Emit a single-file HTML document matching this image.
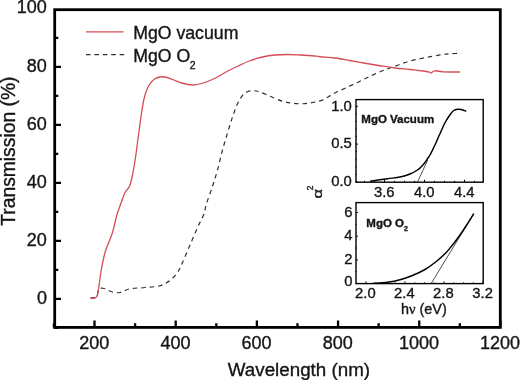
<!DOCTYPE html>
<html><head><meta charset="utf-8"><title>MgO transmission</title>
<style>
html,body{margin:0;padding:0;background:#fff;}
body{width:520px;height:380px;overflow:hidden;}
svg{display:block;}
svg text{font-family:"Liberation Sans",Arial,sans-serif;fill:#151515;stroke:#151515;stroke-width:0.35px;}
</style></head><body>
<svg width="520" height="380" viewBox="0 0 520 380">
<rect width="520" height="380" fill="#fff"/>
<!-- main frame -->
<rect x="54.7" y="9.7" width="445.6" height="317.7" fill="none" stroke="#000" stroke-width="2.8"/>
<path d="M94.50,327.4 V320.6 M175.69,327.4 V320.6 M256.88,327.4 V320.6 M338.06,327.4 V320.6 M419.25,327.4 V320.6 M500.44,327.4 V320.6 M53.91,327.4 V323.3 M135.09,327.4 V323.3 M216.28,327.4 V323.3 M297.47,327.4 V323.3 M378.66,327.4 V323.3 M459.85,327.4 V323.3 M54.5,298.80 H61 M54.5,240.80 H61 M54.5,182.80 H61 M54.5,124.80 H61 M54.5,66.80 H61 M54.5,327.80 H58.3 M54.5,269.80 H58.3 M54.5,211.80 H58.3 M54.5,153.80 H58.3 M54.5,95.80 H58.3 M54.5,37.80 H58.3 " stroke="#000" stroke-width="2.3" fill="none"/>
<g font-size="18"><text x="94.2" y="349.3" text-anchor="middle">200</text><text x="175.4" y="349.3" text-anchor="middle">400</text><text x="256.6" y="349.3" text-anchor="middle">600</text><text x="337.8" y="349.3" text-anchor="middle">800</text><text x="419.0" y="349.3" text-anchor="middle">1000</text><text x="500.1" y="349.3" text-anchor="middle">1200</text><text x="46.9" y="303.7" text-anchor="end">0</text><text x="46.9" y="245.7" text-anchor="end">20</text><text x="46.9" y="187.7" text-anchor="end">40</text><text x="46.9" y="129.7" text-anchor="end">60</text><text x="46.9" y="71.7" text-anchor="end">80</text><text x="46.9" y="12.6" text-anchor="end">100</text></g>
<text x="227.8" y="376" font-size="18.8">Wavelength (nm)</text>
<text transform="translate(15,225.8) rotate(-90)" font-size="19.3">Transmission (%)</text>
<!-- curves -->
<path d="M90.50,298.00 C91.33,297.93 94.42,297.89 95.50,297.60 C96.58,297.31 96.50,297.52 97.00,296.25 C97.50,294.98 98.00,291.32 98.50,290.00 C99.00,288.68 99.33,288.59 100.00,288.30 C100.67,288.01 101.67,288.18 102.50,288.25 C103.33,288.32 103.33,288.12 105.00,288.75 C106.67,289.38 110.00,291.38 112.50,292.00 C115.00,292.62 117.08,293.04 120.00,292.50 C122.92,291.96 125.83,289.58 130.00,288.75 C134.17,287.92 140.00,288.00 145.00,287.50 C150.00,287.00 155.83,286.92 160.00,285.75 C164.17,284.58 167.08,282.71 170.00,280.50 C172.92,278.29 175.42,275.50 177.50,272.50 C179.58,269.50 180.42,267.08 182.50,262.50 C184.58,257.92 187.50,250.83 190.00,245.00 C192.50,239.17 195.21,232.58 197.50,227.50 C199.79,222.42 202.25,218.46 203.75,214.50 C205.25,210.54 205.04,208.46 206.50,203.75 C207.96,199.04 210.67,191.88 212.50,186.25 C214.33,180.62 215.83,176.04 217.50,170.00 C219.17,163.96 220.83,156.17 222.50,150.00 C224.17,143.83 225.83,138.50 227.50,133.00 C229.17,127.50 230.83,121.88 232.50,117.00 C234.17,112.12 235.83,107.33 237.50,103.75 C239.17,100.17 240.83,97.50 242.50,95.50 C244.17,93.50 245.62,92.54 247.50,91.75 C249.38,90.96 251.67,90.71 253.75,90.75 C255.83,90.79 257.29,91.08 260.00,92.00 C262.71,92.92 266.25,94.71 270.00,96.25 C273.75,97.79 278.75,100.08 282.50,101.25 C286.25,102.42 289.17,102.83 292.50,103.25 C295.83,103.67 299.17,103.88 302.50,103.75 C305.83,103.62 309.17,103.12 312.50,102.50 C315.83,101.88 319.17,101.38 322.50,100.00 C325.83,98.62 328.75,96.21 332.50,94.25 C336.25,92.29 340.83,90.21 345.00,88.25 C349.17,86.29 353.33,84.50 357.50,82.50 C361.67,80.50 365.83,78.21 370.00,76.25 C374.17,74.29 378.33,72.42 382.50,70.75 C386.67,69.08 390.83,67.75 395.00,66.25 C399.17,64.75 403.33,63.00 407.50,61.75 C411.67,60.50 415.83,59.67 420.00,58.75 C424.17,57.83 428.75,56.96 432.50,56.25 C436.25,55.54 439.58,54.92 442.50,54.50 C445.42,54.08 446.88,53.96 450.00,53.75 C453.12,53.54 459.38,53.33 461.25,53.25" fill="none" stroke="#303030" stroke-width="1.2" stroke-dasharray="4.5 3.9"/>
<path d="M90.50,298.00 C90.92,298.07 92.17,298.47 93.00,298.40 C93.83,298.33 94.83,297.96 95.50,297.60 C96.17,297.24 96.58,297.18 97.00,296.25 C97.42,295.32 97.71,293.46 98.00,292.00 C98.29,290.54 98.21,291.17 98.75,287.50 C99.29,283.83 100.21,275.83 101.25,270.00 C102.29,264.17 103.75,257.08 105.00,252.50 C106.25,247.92 107.50,245.83 108.75,242.50 C110.00,239.17 111.46,235.83 112.50,232.50 C113.54,229.17 114.25,225.50 115.00,222.50 C115.75,219.50 115.96,217.83 117.00,214.50 C118.04,211.17 119.92,206.17 121.25,202.50 C122.58,198.83 123.62,195.21 125.00,192.50 C126.38,189.79 128.25,189.17 129.50,186.25 C130.75,183.33 131.50,179.79 132.50,175.00 C133.50,170.21 134.67,162.92 135.50,157.50 C136.33,152.08 136.83,147.50 137.50,142.50 C138.17,137.50 138.88,132.08 139.50,127.50 C140.12,122.92 140.54,119.58 141.25,115.00 C141.96,110.42 142.92,103.96 143.75,100.00 C144.58,96.04 145.21,93.96 146.25,91.25 C147.29,88.54 148.54,85.83 150.00,83.75 C151.46,81.67 153.33,79.88 155.00,78.75 C156.67,77.62 158.33,77.29 160.00,77.00 C161.67,76.71 162.92,76.58 165.00,77.00 C167.08,77.42 169.58,78.46 172.50,79.50 C175.42,80.54 179.17,82.33 182.50,83.25 C185.83,84.17 189.17,85.00 192.50,85.00 C195.83,85.00 198.75,84.38 202.50,83.25 C206.25,82.12 210.83,80.25 215.00,78.25 C219.17,76.25 223.75,73.25 227.50,71.25 C231.25,69.25 233.75,68.00 237.50,66.25 C241.25,64.50 245.83,62.29 250.00,60.75 C254.17,59.21 258.33,57.96 262.50,57.00 C266.67,56.04 270.83,55.42 275.00,55.00 C279.17,54.58 283.33,54.50 287.50,54.50 C291.67,54.50 295.83,54.79 300.00,55.00 C304.17,55.21 309.17,55.46 312.50,55.75 C315.83,56.04 316.25,56.38 320.00,56.75 C323.75,57.12 330.00,57.38 335.00,58.00 C340.00,58.62 345.00,59.62 350.00,60.50 C355.00,61.38 360.00,62.38 365.00,63.25 C370.00,64.12 375.00,64.96 380.00,65.75 C385.00,66.54 390.00,67.38 395.00,68.00 C400.00,68.62 405.00,68.96 410.00,69.50 C415.00,70.04 422.50,70.96 425.00,71.25  L429.00,72.00 L431.25,73.00 L433.00,71.50 L435.00,70.75 L442.50,71.75 L450.00,72.00 L460.00,72.00" fill="none" stroke="#d64c56" stroke-width="1.3" stroke-linejoin="round"/>
<!-- legend -->
<path d="M86,31.8 H123.5" stroke="#d64c56" stroke-width="1.3"/>
<path d="M86,54.7 H124.5" stroke="#303030" stroke-width="1.2" stroke-dasharray="4.6 3.8"/>
<text x="133.2" y="38.5" font-size="17.7">MgO vacuum</text>
<text x="133.2" y="61.8" font-size="17.7">MgO O<tspan font-size="10.5" dy="6.7" dx="-0.5">2</tspan></text>
<!-- insets -->
<rect x="356" y="99.6" width="127.2" height="82.6" fill="#fff" stroke="#000" stroke-width="1.4"/>
<rect x="356" y="202.6" width="127.2" height="81" fill="#fff" stroke="#000" stroke-width="1.4"/>
<path d="M355.75,182.00 h2.2 M355.75,174.43 h1.2 M355.75,166.85 h1.2 M355.75,159.28 h1.2 M355.75,151.70 h1.2 M355.75,144.12 h2.2 M355.75,136.55 h1.2 M355.75,128.97 h1.2 M355.75,121.40 h1.2 M355.75,113.83 h1.2 M355.75,106.25 h2.2 M364.50,182 v-1.2 M374.50,182 v-1.2 M384.50,182 v-2.2 M394.50,182 v-1.2 M404.50,182 v-1.2 M414.50,182 v-1.2 M424.50,182 v-2.2 M434.50,182 v-1.2 M444.50,182 v-1.2 M454.50,182 v-1.2 M464.50,182 v-2.2 M474.50,182 v-1.2 M355.75,283.60 h2.2 M355.75,271.75 h1.2 M355.75,259.90 h2.2 M355.75,248.05 h1.2 M355.75,236.20 h2.2 M355.75,224.35 h1.2 M355.75,212.50 h2.2 M366.00,283.6 v-2.2 M375.75,283.6 v-1.2 M385.50,283.6 v-1.2 M395.25,283.6 v-1.2 M405.00,283.6 v-2.2 M414.75,283.6 v-1.2 M424.50,283.6 v-1.2 M434.25,283.6 v-1.2 M444.00,283.6 v-2.2 M453.75,283.6 v-1.2 M463.50,283.6 v-1.2 M473.25,283.6 v-1.2 M483.00,283.6 v-2.2 " stroke="#000" stroke-width="1" fill="none"/>
<path d="M417.5,182 L427.7,160" stroke="#222" stroke-width="0.8" fill="none"/>
<path d="M431.1,283.6 L473.75,213.75" stroke="#222" stroke-width="0.8" fill="none"/>
<path d="M370.00,181.25 C372.92,180.83 382.50,179.46 387.50,178.75 C392.50,178.04 396.25,177.79 400.00,177.00 C403.75,176.21 407.08,175.17 410.00,174.00 C412.92,172.83 415.62,171.21 417.50,170.00 C419.38,168.79 420.00,168.00 421.25,166.75 C422.50,165.50 423.96,163.83 425.00,162.50 C426.04,161.17 426.67,160.00 427.50,158.75 C428.33,157.50 429.17,156.46 430.00,155.00 C430.83,153.54 431.67,151.67 432.50,150.00 C433.33,148.33 433.96,147.29 435.00,145.00 C436.04,142.71 437.92,138.12 438.75,136.25 C439.58,134.38 438.96,136.00 440.00,133.75 C441.04,131.50 443.33,125.92 445.00,122.75 C446.67,119.58 448.54,116.79 450.00,114.75 C451.46,112.71 452.50,111.42 453.75,110.50 C455.00,109.58 456.25,109.42 457.50,109.25 C458.75,109.08 459.79,109.17 461.25,109.50 C462.71,109.83 465.42,110.96 466.25,111.25" fill="none" stroke="#000" stroke-width="1.45"/>
<path d="M372.50,283.40 C375.00,283.20 382.92,282.81 387.50,282.20 C392.08,281.59 395.83,280.87 400.00,279.75 C404.17,278.63 408.33,277.21 412.50,275.50 C416.67,273.79 421.25,271.67 425.00,269.50 C428.75,267.33 431.67,265.12 435.00,262.50 C438.33,259.88 442.08,256.67 445.00,253.75 C447.92,250.83 450.00,248.12 452.50,245.00 C455.00,241.88 457.50,238.54 460.00,235.00 C462.50,231.46 465.21,227.29 467.50,223.75 C469.79,220.21 472.71,215.42 473.75,213.75" fill="none" stroke="#000" stroke-width="1.45"/>
<g font-size="14.8" text-anchor="end">
<text x="351.8" y="110.8">1.0</text><text x="351.8" y="148.4">0.5</text><text x="351.8" y="186.3">0.0</text>
<text x="352.4" y="216.5">6</text><text x="352.4" y="240">4</text><text x="352.4" y="263.5">2</text><text x="352.4" y="286.4">0</text>
</g>
<g font-size="14.8" text-anchor="middle">
<text x="384.3" y="197.2">3.6</text><text x="424.3" y="197.2">4.0</text><text x="464.3" y="197.2">4.4</text>
<text x="365.4" y="298.1">2.0</text><text x="404.4" y="298.1">2.4</text><text x="443.4" y="298.1">2.8</text><text x="482.6" y="298.1">3.2</text>
</g>
<text x="361.3" y="123" font-size="11.5" font-weight="bold">MgO Vacuum</text>
<text x="366.3" y="227" font-size="11.5" font-weight="bold">MgO O<tspan font-size="7" dy="3.5">2</tspan></text>
<text x="401" y="313.7" font-size="14.4">h<tspan font-family="'Liberation Serif',serif" font-size="14.4">ν</tspan> (eV)</text>
<text transform="translate(322.4,198.6) rotate(-90) scale(1.2,0.9)" font-size="13.6" stroke-width="0">α</text>
<text transform="translate(313.2,190.2) rotate(-90)" font-size="8.3">2</text>
</svg>
</body></html>
